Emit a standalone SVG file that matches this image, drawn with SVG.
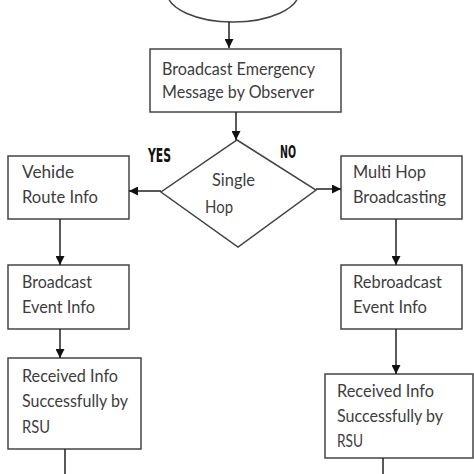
<svg xmlns="http://www.w3.org/2000/svg" width="474" height="474" viewBox="0 0 474 474">
<defs>
<marker id="ah" viewBox="0 0 10 10" refX="10" refY="5" markerWidth="9" markerHeight="9" markerUnits="userSpaceOnUse" orient="auto">
<path d="M0,0 L10,5 L0,10 z" fill="#111"/>
</marker>
<style>
.shape{fill:#fff;stroke:#444;stroke-width:1.5}
.t{font-family:Lato,"Liberation Sans",Arial,sans-serif;font-size:17px;fill:#3d3d3d}
.lbl{font-family:"Liberation Sans Narrow","DejaVu Sans Condensed","Liberation Sans",sans-serif;font-weight:bold;fill:#111}
.c{stroke:#222;stroke-width:1.5;fill:none}
</style>
</defs>
<rect width="474" height="474" fill="#fff"/>
<g id="start">
<ellipse class="shape" cx="233" cy="-8" rx="66" ry="30"/>
</g>
<g id="broadcast-emergency">
<rect class="shape" x="150" y="49" width="191" height="63"/>
<text class="t" x="162" y="75" textLength="153" lengthAdjust="spacingAndGlyphs">Broadcast Emergency</text>
<text class="t" x="162" y="98" textLength="152" lengthAdjust="spacingAndGlyphs">Message by Observer</text>
</g>
<g id="single-hop">
<polygon class="shape" points="237,140 316,190 238,247 161,192"/>
<text class="t" x="212" y="186" textLength="43" lengthAdjust="spacingAndGlyphs">Single</text>
<text class="t" x="205" y="213" textLength="28" lengthAdjust="spacingAndGlyphs">Hop</text>
</g>
<g id="vehicle-route">
<rect class="shape" x="8" y="156" width="121" height="63"/>
<text class="t" x="22" y="178" textLength="52" lengthAdjust="spacingAndGlyphs">Vehide</text>
<text class="t" x="22" y="203" textLength="76" lengthAdjust="spacingAndGlyphs">Route Info</text>
</g>
<g id="multi-hop">
<rect class="shape" x="341" y="156" width="121" height="63"/>
<text class="t" x="353" y="178" textLength="73" lengthAdjust="spacingAndGlyphs">Multi Hop</text>
<text class="t" x="353" y="203" textLength="93" lengthAdjust="spacingAndGlyphs">Broadcasting</text>
</g>
<g id="broadcast-event">
<rect class="shape" x="8" y="265" width="121" height="64"/>
<text class="t" x="22" y="288" textLength="70" lengthAdjust="spacingAndGlyphs">Broadcast</text>
<text class="t" x="22" y="313" textLength="73" lengthAdjust="spacingAndGlyphs">Event Info</text>
</g>
<g id="rebroadcast-event">
<rect class="shape" x="341" y="265" width="121" height="64"/>
<text class="t" x="353" y="288" textLength="89" lengthAdjust="spacingAndGlyphs">Rebroadcast</text>
<text class="t" x="353" y="313" textLength="74" lengthAdjust="spacingAndGlyphs">Event Info</text>
</g>
<g id="received-left">
<rect class="shape" x="8" y="358" width="133" height="91"/>
<text class="t" x="22" y="382" textLength="96" lengthAdjust="spacingAndGlyphs">Received Info</text>
<text class="t" x="22" y="407" textLength="106" lengthAdjust="spacingAndGlyphs">Successfully by</text>
<text class="t" x="22" y="433" textLength="28" lengthAdjust="spacingAndGlyphs">RSU</text>
</g>
<g id="received-right">
<rect class="shape" x="325" y="374" width="148" height="84"/>
<text class="t" x="337" y="397" textLength="97" lengthAdjust="spacingAndGlyphs">Received Info</text>
<text class="t" x="337" y="422" textLength="106" lengthAdjust="spacingAndGlyphs">Successfully by</text>
<text class="t" x="337" y="447" textLength="26" lengthAdjust="spacingAndGlyphs">RSU</text>
</g>
<g id="connectors">
<line class="c" x1="229" y1="22" x2="229" y2="48" marker-end="url(#ah)"/>
<line class="c" x1="236" y1="112" x2="236" y2="140" marker-end="url(#ah)"/>
<line class="c" x1="161" y1="191" x2="129" y2="191" marker-end="url(#ah)"/>
<line class="c" x1="316" y1="189" x2="341" y2="189" marker-end="url(#ah)"/>
<line class="c" x1="60" y1="219" x2="60" y2="265" marker-end="url(#ah)"/>
<line class="c" x1="60" y1="329" x2="60" y2="358" marker-end="url(#ah)"/>
<line class="c" x1="65" y1="449" x2="65" y2="474"/>
<line class="c" x1="396" y1="219" x2="396" y2="265" marker-end="url(#ah)"/>
<line class="c" x1="396" y1="329" x2="396" y2="374" marker-end="url(#ah)"/>
<line class="c" x1="383" y1="458" x2="383" y2="474"/>
<text class="lbl" x="148" y="162" font-size="19" textLength="23" lengthAdjust="spacingAndGlyphs">YES</text>
<text class="lbl" x="280" y="158" font-size="17" textLength="16" lengthAdjust="spacingAndGlyphs">NO</text>
</g>
</svg>
